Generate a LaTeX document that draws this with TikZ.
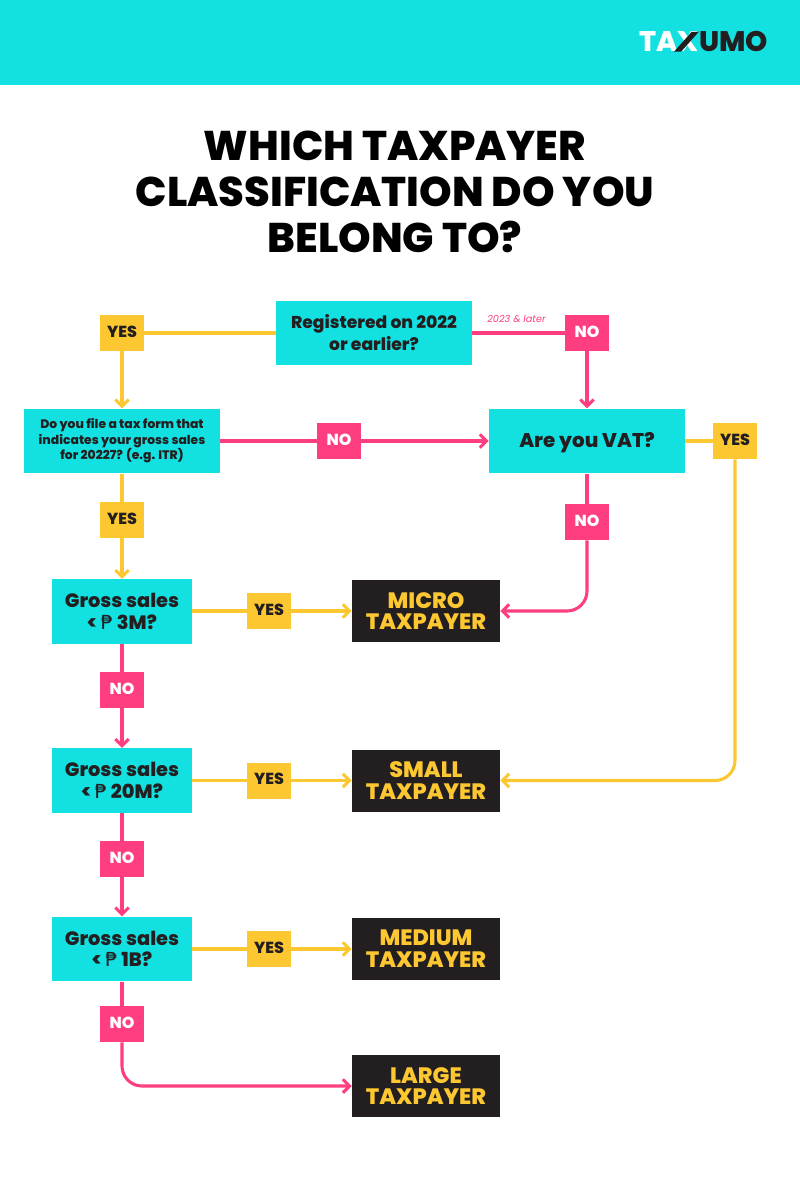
\documentclass[tikz,border=0pt]{standalone}
\usepackage{fontspec}
\setmainfont{Poppins}[BoldFont={Poppins ExtraBold}]
\newfontfamily\pesofont{DejaVu Sans}
\usetikzlibrary{arrows.meta}
\definecolor{tcyan}{HTML}{12E0E1}
\definecolor{tyellow}{HTML}{FDC731}
\definecolor{tpink}{HTML}{FF3D81}
\definecolor{tblack}{HTML}{231F20}
\newcommand{\peso}{{\pesofont\mdseries ₱}}
\tikzset{
  qbox/.style={fill=tcyan,text=tblack,font=\bfseries\fontsize{14.5}{16}\selectfont,align=center,inner sep=0pt,minimum width=105pt,minimum height=48.5pt},
  qwide/.style={qbox,minimum width=147pt,font=\bfseries\fontsize{12.85}{16.5}\selectfont},
  qsmall/.style={qwide,font=\bfseries\fontsize{9.25}{11.6}\selectfont},
  rbox/.style={fill=tblack,text=tyellow,font=\bfseries\fontsize{16.7}{16.4}\selectfont,align=center,inner sep=0pt,minimum width=111pt,minimum height=46.5pt},
  yesbox/.style={fill=tyellow,text=tblack,font=\bfseries\fontsize{12}{12}\selectfont,inner sep=0pt,minimum width=33pt,minimum height=27pt,text height=9pt,text depth=3pt},
  nobox/.style={fill=tpink,text=white,font=\bfseries\fontsize{12}{12}\selectfont,inner sep=0pt,minimum width=33pt,minimum height=27pt,text height=9pt,text depth=3pt},
  yline/.style={draw=tyellow,line width=2.3pt},
  pline/.style={draw=tpink,line width=2.3pt},
  tip/.style={-{Straight Barb[length=5pt,width=10pt,line width=2.3pt]}},
  titletext/.style={font=\bfseries\fontsize{31.1}{34.5}\selectfont,text=black,align=center,inner sep=0pt},
  logotext/.style={font=\bfseries\fontsize{21.2}{21}\selectfont,inner sep=0pt,anchor=base west}
}
\begin{document}
\begin{tikzpicture}[x=0.75pt,y=-0.75pt]
\useasboundingbox (0,0) rectangle (800,1200);
\fill[white] (0,0) rectangle (800,1200);
\fill[tcyan] (0,0) rectangle (800,85);
% logo
\node[logotext,text=white] (logoA) at (639,51.5) {TAX};
\node[logotext,text=tblack] (logoB) at (logoA.base east) {UMO};
\coordinate (xa) at (logoA.base east);
\fill[tblack] ([xshift=-18.5pt]xa) -- ([xshift=-13.2pt]xa) -- ([xshift=0pt,yshift=14.8pt]xa) -- ([xshift=-5.3pt,yshift=14.8pt]xa) -- cycle;
% title
\node[titletext] (title) at (395,192) {WHICH TAXPAYER\\CLASSIFICATION DO YOU\\BELONG TO?};
% boxes
\node[qwide] (q1) at (374,333) {Registered on 2022\\or earlier?};
\node[qsmall] (q2) at (122,441) {Do you file a tax form that\\indicates your gross sales\\for 20227? (e.g. ITR)};
\node[qwide,font=\bfseries\fontsize{14.9}{16}\selectfont,text height=13pt,text depth=4pt] (q3) at (587,441) {Are you VAT?};
\node[qbox] (q4) at (122,611.5) {Gross sales\\< \peso{} 3M?};
\node[qbox] (q5) at (122,780.5) {Gross sales\\< \peso{} 20M?};
\node[qbox] (q6) at (122,949) {Gross sales\\< \peso{} 1B?};
\node[rbox] (micro) at (426,611) {MICRO\\TAXPAYER};
\node[rbox] (small) at (426,780.5) {SMALL\\TAXPAYER};
\node[rbox] (medium) at (426,949) {MEDIUM\\TAXPAYER};
\node[rbox] (large) at (426,1086) {LARGE\\TAXPAYER};
\node[yesbox] (y1) at (122,333) {YES};
\node[nobox] (n1) at (587,333) {NO};
\node[nobox] (n2) at (339,441) {NO};
\node[yesbox] (y3) at (735,441) {YES};
\node[yesbox] (y2) at (122,520) {YES};
\node[nobox] (n3) at (587,522) {NO};
\node[yesbox] (y4) at (269,611) {YES};
\node[yesbox] (y5) at (269,780.5) {YES};
\node[yesbox] (y6) at (269,949) {YES};
\node[nobox] (n4) at (122,690) {NO};
\node[nobox] (n5) at (122,859) {NO};
\node[nobox] (n6) at (122,1024) {NO};
\node[font=\itshape\fontsize{7.3}{8}\selectfont,text=tpink,inner sep=0pt] (later) at (516.5,319) {2023 \& later};
% connectors
\path[yline] (q1.west) -- (y1.east);
\path[yline,tip] (y1.south) -- (q2.north);
\path[yline] (q2.south) -- (y2.north);
\path[yline,tip] (y2.south) -- (q4.north);
\path[yline] (y4.west -| q4.east) -- (y4.west);
\path[yline,tip] (y4.east) -- (micro.west);
\path[yline] (q5.east) -- (y5.west);
\path[yline,tip] (y5.east) -- (small.west);
\path[yline] (q6.east) -- (y6.west);
\path[yline,tip] (y6.east) -- (medium.west);
\path[yline] (q3.east) -- (y3.west);
\path[yline,tip,rounded corners=15pt] (y3.south) |- (small.east);
\path[pline] (q1.east) -- (n1.west);
\path[pline,tip] (n1.south) -- (q3.north);
\path[pline] (q2.east) -- (n2.west);
\path[pline,tip] (n2.east) -- (q3.west);
\path[pline] (q3.south) -- (n3.north);
\path[pline,tip,rounded corners=15pt] (n3.south) |- (micro.east);
\path[pline] (q4.south) -- (n4.north);
\path[pline,tip] (n4.south) -- (q5.north);
\path[pline] (q5.south) -- (n5.north);
\path[pline,tip] (n5.south) -- (q6.north);
\path[pline] (q6.south) -- (n6.north);
\path[pline,tip,rounded corners=15pt] (n6.south) |- (large.west);
\end{tikzpicture}
\end{document}
